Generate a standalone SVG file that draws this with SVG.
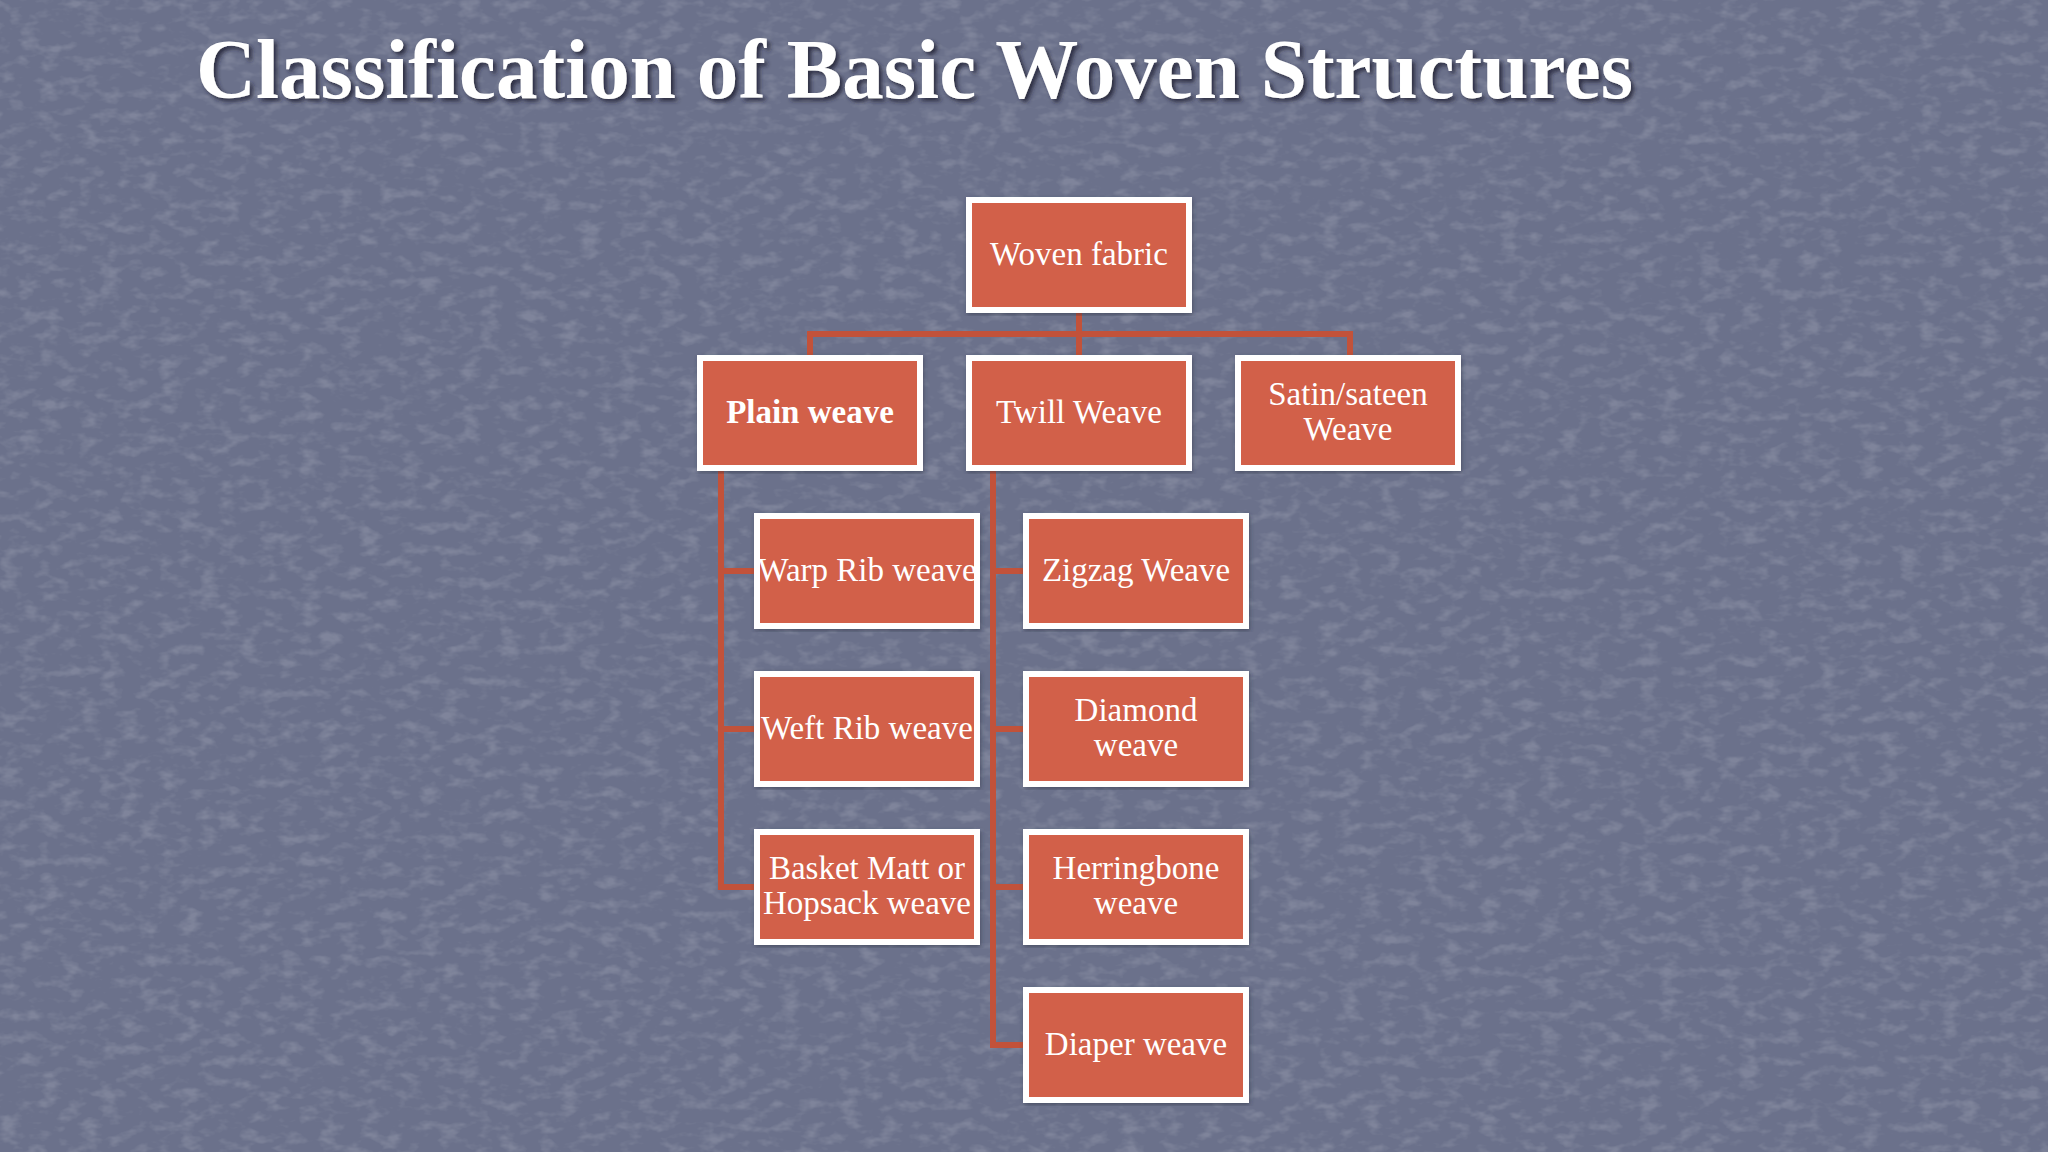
<svg xmlns="http://www.w3.org/2000/svg" width="2048" height="1152" viewBox="0 0 2048 1152">
<defs>
<filter id="tex" x="0" y="0" width="100%" height="100%">
<feTurbulence type="fractalNoise" baseFrequency="0.05 0.09" numOctaves="3" seed="7" result="n"/>
<feColorMatrix in="n" type="matrix" values="0 0 0 0 0.34  0 0 0 0 0.36  0 0 0 0 0.45  0 0 0 -3 1.55" result="m"/>
<feComposite in="m" in2="SourceGraphic" operator="in"/>
</filter>
<filter id="sh" x="-5%" y="-20%" width="110%" height="140%">
<feDropShadow dx="3" dy="3" stdDeviation="2" flood-color="#1e2233" flood-opacity="0.85"/>
</filter>
<filter id="bsh" x="-5%" y="-5%" width="110%" height="110%">
<feDropShadow dx="1" dy="2" stdDeviation="2" flood-color="#2a2e40" flood-opacity="0.5"/>
</filter>
</defs>
<style>
.box{fill:#d2614a;stroke:#ffffff;stroke-width:6;filter:url(#bsh)}
.lbl{font-family:"Liberation Serif","DejaVu Serif",serif;font-size:33px;fill:#ffffff;text-anchor:middle}
.bold{font-weight:bold}
.con{fill:none;stroke:#c2523a;stroke-width:6;stroke-linejoin:miter}
.title{font-family:"Liberation Serif","DejaVu Serif",serif;font-size:84px;font-weight:bold;fill:#ffffff;filter:url(#sh)}
</style>
<rect x="0" y="0" width="2048" height="1152" fill="#6b718b"/>
<rect x="0" y="0" width="2048" height="1152" fill="#6b718b" filter="url(#tex)" opacity="0.4"/>
<text class="title" x="196" y="98" textLength="1437" lengthAdjust="spacingAndGlyphs">Classification of Basic Woven Structures</text>
<g id="connectors">
<path class="con" d="M1079 313 V355 M810 355 V334 H1350 V355"/>
<path class="con" d="M721 470 V887 H754 M721 571 H754 M721 729 H754"/>
<path class="con" d="M993 470 V1045 H1023 M993 571 H1023 M993 729 H1023 M993 887 H1023"/>
</g>
<g id="woven-fabric"><rect class="box" x="969" y="200" width="220" height="110"/><text class="lbl" x="1079" y="265">Woven fabric</text></g>
<g id="plain-weave"><rect class="box" x="700" y="358" width="220" height="110"/><text class="lbl bold" x="810" y="423">Plain weave</text></g>
<g id="twill-weave"><rect class="box" x="969" y="358" width="220" height="110"/><text class="lbl" x="1079" y="423">Twill Weave</text></g>
<g id="satin-weave"><rect class="box" x="1238" y="358" width="220" height="110"/><text class="lbl" x="1348" y="405">Satin/sateen</text><text class="lbl" x="1348" y="440">Weave</text></g>
<g id="warp-rib"><rect class="box" x="757" y="516" width="220" height="110"/><text class="lbl" x="867" y="581">Warp Rib weave</text></g>
<g id="weft-rib"><rect class="box" x="757" y="674" width="220" height="110"/><text class="lbl" x="867" y="739">Weft Rib weave</text></g>
<g id="basket"><rect class="box" x="757" y="832" width="220" height="110"/><text class="lbl" x="867" y="879">Basket Matt or</text><text class="lbl" x="867" y="914">Hopsack weave</text></g>
<g id="zigzag"><rect class="box" x="1026" y="516" width="220" height="110"/><text class="lbl" x="1136" y="581">Zigzag Weave</text></g>
<g id="diamond"><rect class="box" x="1026" y="674" width="220" height="110"/><text class="lbl" x="1136" y="721">Diamond</text><text class="lbl" x="1136" y="756">weave</text></g>
<g id="herringbone"><rect class="box" x="1026" y="832" width="220" height="110"/><text class="lbl" x="1136" y="879">Herringbone</text><text class="lbl" x="1136" y="914">weave</text></g>
<g id="diaper"><rect class="box" x="1026" y="990" width="220" height="110"/><text class="lbl" x="1136" y="1055">Diaper weave</text></g>
</svg>
